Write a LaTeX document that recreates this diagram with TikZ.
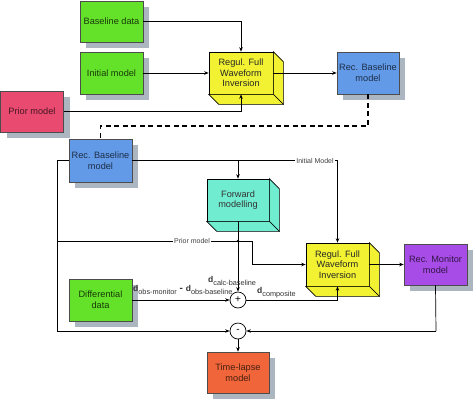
\documentclass[tikz,border=0pt]{standalone}
\usepackage{fontspec}
\setmainfont{Liberation Sans}
\usetikzlibrary{arrows.meta,shadows}
\definecolor{cgreen}{RGB}{100,226,42}
\definecolor{cpink}{RGB}{232,74,112}
\definecolor{cblue}{RGB}{98,154,232}
\definecolor{cyellow}{RGB}{242,242,50}
\definecolor{ccyan}{RGB}{112,236,208}
\definecolor{cpurple}{RGB}{168,76,232}
\definecolor{corange}{RGB}{240,102,58}
\definecolor{cshadow}{RGB}{172,182,192}
\newcommand\cubefaces[2]{%
  \filldraw[fill=#2,draw=black,line width=0.6pt] (#1.north east) -- ++(10,10) -- ([shift={(10,10)}]#1.south east) -- (#1.south east) -- cycle;
  \filldraw[fill=#2,draw=black,line width=0.6pt] (#1.south west) -- ++(10,10) -- ([shift={(10,10)}]#1.south east) -- (#1.south east) -- cycle;}
\newcommand\dsub[1]{{\bfseries\fontsize{8.5}{9}\selectfont d}\raisebox{-3pt}{\fontsize{7.3}{8}\selectfont #1}}
\begin{document}
\begin{tikzpicture}[x=1pt,y=-1pt,
  box/.style={draw=black!70, line width=0.6pt, minimum width=63pt, minimum height=42pt,
    align=center, font=\fontsize{9.2}{10.7}\selectfont, inner sep=1pt,
    drop shadow={shadow xshift=6pt, shadow yshift=-6pt, fill=cshadow, opacity=1}},
  cubebox/.style={draw=black, line width=0.6pt, minimum width=64pt, minimum height=42pt,
    align=center, font=\fontsize{9.2}{10.7}\selectfont, inner sep=1pt},
  conn/.style={line width=0.7pt, -{Stealth[length=4.5pt,width=3.5pt]}},
  plainline/.style={line width=0.7pt},
  lbl/.style={fill=white, inner sep=1pt, font=\fontsize{7}{8}\selectfont, text=black!75},
  op/.style={circle, draw=black, fill=white, line width=0.7pt, minimum size=16pt, inner sep=0pt, font=\fontsize{10}{10}\selectfont}
]
\useasboundingbox (0,0) rectangle (474,400);

% cubes
\node[cubebox, fill=cyellow, text=black!85] (fwi1) at (241,73) {Regul. Full\\Waveform\\Inversion};
\cubefaces{fwi1}{cyellow}
\node[cubebox, fill=ccyan, minimum width=62pt, text=black!80] (fm) at (238,200) {Forward\\modelling};
\cubefaces{fm}{ccyan}
\node[cubebox, fill=cyellow, minimum width=63pt, minimum height=43pt, text=black!85] (fwi2) at (337.5,264.5) {Regul. Full\\Waveform\\Inversion};
\cubefaces{fwi2}{cyellow}

% boxes
\node[box, fill=cgreen, minimum height=41pt, text=cgreen!25!black] (bd) at (111.5,21.5) {Baseline data};
\node[box, fill=cgreen, text=cgreen!25!black] (im) at (111.5,73) {Initial model};
\node[box, fill=cpink, minimum height=41pt, text=cpink!30!black] (pm) at (32,111.5) {Prior model};
\node[box, fill=cblue, minimum width=62pt, text=cblue!30!black] (rb1) at (368,73) {Rec. Baseline\\model};
\node[box, fill=cblue, minimum height=43pt, text=cblue!30!black] (rb2) at (100.5,160.5) {Rec. Baseline\\model};
\node[box, fill=cgreen, text=cgreen!25!black] (dd) at (100.5,300) {Differential\\data};
\node[box, fill=cpurple, minimum height=41pt, text=cpurple!30!black] (rm) at (435.5,264.5) {Rec. Monitor\\model};
\node[box, fill=corange, minimum width=62pt, minimum height=41pt, text=corange!30!black] (tl) at (238,372.5) {Time-lapse\\model};

\node[op] (plus) at (238,300) {+};
\node[op] (minus) at (238,331) {-};

% coordinates
\coordinate (dashc1) at (368,126);
\coordinate (dashc2) at (100.5,126);
\coordinate (imc) at (337.5,160.5);
\coordinate (fmc) at (238,160.5);
\coordinate (lt) at (57,160.5);
\coordinate (lp) at (57,241);
\coordinate (lb) at (57,331);
\coordinate (jp) at (238,241);
\coordinate (pc1) at (252,241);
\coordinate (pc2) at (252,264.5);
\coordinate (rmc) at (436,331);

% connectors (top)
\draw[conn] (bd.east) -| (fwi1.north);
\draw[conn] (im.east) -- (fwi1.west);
\draw[conn] (pm.east) -| (fwi1.south);
\draw[conn] (fwi1.east) -- (rb1.west);
\draw[line width=1.5pt, dash pattern=on 5pt off 3.5pt] (rb1.south) -- (dashc1) -- (dashc2) -- (rb2.north);

% connectors (bottom)
\draw[plainline] (rb2.east) -- (imc);
\node[lbl] at (315,160.5) {Initial Model};
\draw[conn] (imc) -- (fwi2.north);
\draw[conn] (fmc) -- (fm.north);
\draw[plainline] (rb2.west) -- (lt) -- (lb);
\draw[conn] (lb) -- (minus.west);
\draw[plainline] (lp) -- (pc1) -- (pc2);
\draw[conn] (pc2) -- (fwi2.west);
\node[lbl] at (192,241) {Prior model};
\fill (jp) circle (1.3pt);
\draw[conn] (fm.south) -- (plus.north);
\draw[conn] (dd.east) -- (plus.west);
\draw[conn] (plus.east) -| (fwi2.south);
\draw[conn] (fwi2.east) -- (rm.west);
\draw[plainline] (rm.south) -- (rmc);
\draw[conn] (rmc) -- (minus.east);
\draw[conn] (minus.south) -- (tl.north);

% data labels
\node[anchor=base west, inner sep=0pt, text=black!80] (lcalc) at (208,282) {\dsub{calc-baseline}};
\node[anchor=base west, inner sep=0pt, text=black!80] (lobs) at (133,291) {\dsub{obs-monitor} {\bfseries -} \dsub{obs-baseline}};
\node[anchor=base west, inner sep=0pt, text=black!80] (lcomp) at (257,293) {\dsub{composite}};
\end{tikzpicture}
\end{document}
